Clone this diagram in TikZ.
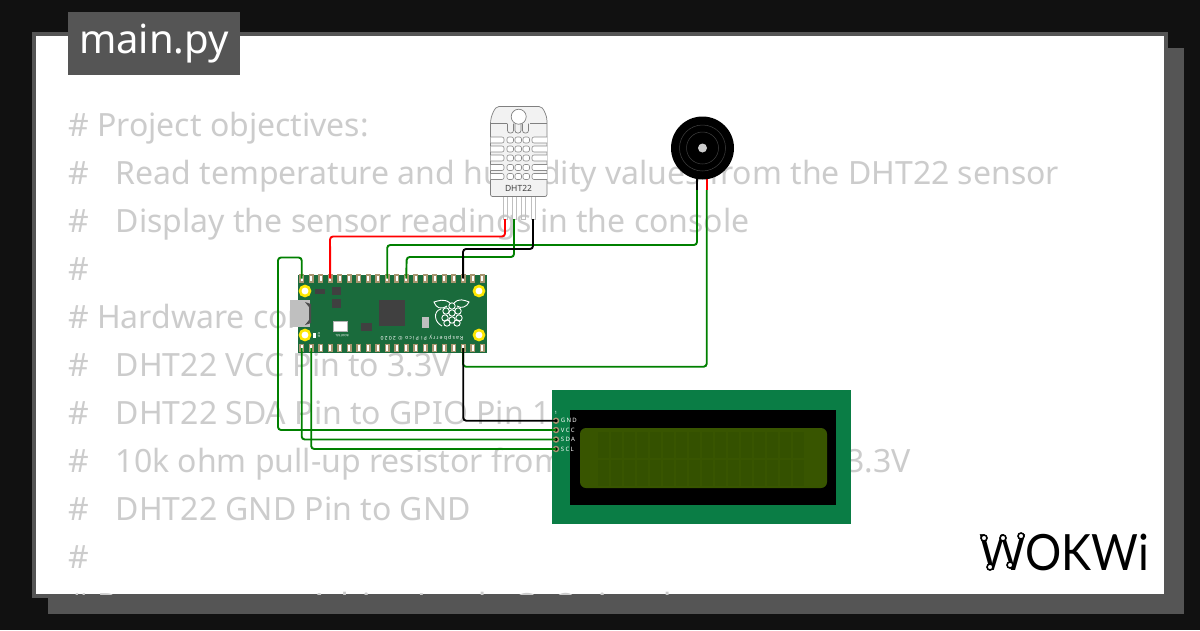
\documentclass[tikz,border=0pt]{standalone}
\usepackage{fontspec}
\setmainfont{Noto Sans}
\newfontfamily\logofont{Lato}
\newfontfamily\spacedfont[LetterSpace=22]{Noto Sans}
\usetikzlibrary{positioning}
\definecolor{pagedark}{HTML}{111111}
\definecolor{framegrey}{HTML}{555555}
\definecolor{codegrey}{HTML}{CCCCCC}
\definecolor{picogreen}{HTML}{1A6B3C}
\definecolor{padtan}{HTML}{A8956F}
\definecolor{lcdgreen}{HTML}{0A7D45}
\definecolor{lcdscreen}{HTML}{385500}
\definecolor{lcdcell}{HTML}{345100}
\definecolor{wiregreen}{HTML}{008000}
\newcommand{\codetext}[3]{\node[codeline] (#1) at (68,#2) {\#\hspace{27pt}#3};}

\begin{document}
\begin{tikzpicture}[
  x=1pt, y=-1pt,
  codeline/.style={
    anchor=base west, inner sep=0pt, text=codegrey, font=\fontsize{32}{32}\selectfont
  },
  pad/.style={
    rectangle, draw=padtan, fill=white, line width=1.5pt,
    minimum width=3.6pt, minimum height=7pt, inner sep=0pt
  },
  ring/.style={
    circle, draw=yellow!90!orange, fill=white, line width=2.6pt,
    minimum size=10pt, inner sep=0pt
  },
  chip/.style={
    rectangle, fill=black!75, inner sep=0pt
  },
  tiny/.style={
    inner sep=0pt, text=white, font=\fontsize{4.5}{5}\selectfont
  },
  lcdpin/.style={
    circle, draw=padtan, fill=black, line width=1.4pt, minimum size=5pt, inner sep=0pt
  },
  lcdlabel/.style={
    anchor=west, inner sep=0pt, text=white, font=\spacedfont\fontsize{6}{6}\selectfont
  },
  wire/.style={
    line width=1.9pt, rounded corners=3pt, draw=wiregreen
  },
  grille/.style={
    draw=black!45, line width=0.6pt, fill=white, rounded corners=2pt
  }
  ]
  % frame
  \fill[pagedark] (0,0) rectangle (1200,630);
  \fill[framegrey] (48,48) rectangle (1184,614);
  \fill[framegrey] (32,32) rectangle (1168,598);
  \fill[white] (36,36) rectangle (1164,594);
  \node[fill=framegrey, minimum width=172pt, minimum height=63pt, inner sep=0pt,
    text=white, font=\fontsize{40}{40}\selectfont] (title) at (154,43.5) {main.py};

  % code behind the parts
  \begin{scope}
    \clip (36,36) rectangle (1164,594);
    \node[codeline] (line1) at (68,136) {\# Project objectives:};
    \codetext{line2}{184}{Read temperature and humidity values from the DHT22 sensor}
    \codetext{line3}{232}{Display the sensor readings in the console}
    \node[codeline] (line4) at (68,280) {\#};
    \node[codeline] (line5) at (68,328) {\# Hardware connected:};
    \codetext{line6}{376}{DHT22 VCC Pin to 3.3V}
    \codetext{line7}{424}{DHT22 SDA Pin to GPIO Pin 1}
    \codetext{line8}{472}{10k ohm pull-up resistor from DHT22 SDA Pin to 3.3V}
    \codetext{line9}{520}{DHT22 GND Pin to GND}
    \node[codeline] (line10) at (68,568) {\#};
    \node[codeline] (line11) at (68,616) {\# Programmer: Adrian Josele G. Quional};
  \end{scope}

  % pico
  \fill[picogreen] (297.5,274.5) rectangle (487,352.5);
  \foreach \i in {1,...,20} {
    \node[pad] (top\i) at ({301.7+9.5*(\i-1)},278.5) {};
    \node[pad] (bot\i) at ({301.7+9.5*(\i-1)},348) {};
  }
  \node[ring] (holea) at (305,291) {};
  \node[ring] (holeb) at (479,291) {};
  \node[ring] (holec) at (305,335) {};
  \node[ring] (holed) at (479,335) {};
  \fill[black!25] (290,300) rectangle (310,327);
  \fill[black!70] (305,302) -- (311,304) -- (311,323) -- (305,325) -- (309,320) -- (309,307) -- cycle;
  \node[chip, minimum width=26pt, minimum height=26pt] (rp2040) at (392,313) {};
  \node[chip, minimum width=10pt, minimum height=5pt] (chipa) at (320,291) {};
  \node[chip, minimum width=9pt, minimum height=8pt] (chipb) at (336.5,291) {};
  \node[chip, minimum width=9pt, minimum height=9pt] (chipc) at (336.5,303) {};
  \node[chip, minimum width=11pt, minimum height=8pt] (chipd) at (366.5,327) {};
  \node[fill=white, draw=black!30, minimum width=14pt, minimum height=10pt, inner sep=0pt] (bootsel) at (340,326) {};
  \node[fill=black!25, minimum width=7pt, minimum height=11pt, inner sep=0pt] (flash) at (425,322) {};
  \node[fill=white, minimum width=3pt, minimum height=5pt, inner sep=0pt] (led) at (314,335) {};
  \node[tiny, rotate=180, font=\spacedfont\fontsize{5.2}{6}\selectfont] (pico) at (422,337.5) {Raspberry Pi Pico © 2020};
  \node[tiny, rotate=180, font=\fontsize{3}{3}\selectfont] (boot) at (342,336) {BOOTSEL};
  \node[tiny, rotate=90, font=\fontsize{3}{3}\selectfont] (ledtext) at (319,335) {LED};
  % raspberry
  \foreach \a/\b in {452/306, 446/311, 458/311, 452/313, 445/318, 459/318, 452/320, 447/323, 457/323}
    \draw[white, line width=0.9pt] (\a,\b) circle (3.2pt);
  \draw[white, line width=0.9pt] (450,303) .. controls (444,298) and (438,301) .. (434,302) .. controls (436,308) and (441,310) .. (447,306);
  \draw[white, line width=0.9pt] (454,303) .. controls (459,298) and (464,300) .. (469,302) .. controls (467,307) and (461,309) .. (457,306);
  \draw[white, line width=0.9pt] (441,309) .. controls (433,311) and (434,322) .. (442,326);

  % dht22
  \foreach \a in {505,514,523.5,533}
    \draw[black!25, line width=0.6pt] (\a-2,196) -- (\a-2,219) -- (\a+2,219) -- (\a+2,196);
  \draw[black!50, fill=black!5, line width=0.7pt, rounded corners=2pt]
    (490.5,196.5) -- (490.5,123) .. controls (491,116) and (494,110) .. (497,106.5)
    -- (541,106.5) .. controls (544,110) and (547,116) .. (547,123) -- (547,196.5) -- cycle;
  \draw[black!50, fill=white, line width=0.7pt] (518.7,116.7) circle (7.5pt);
  \draw[black!50, line width=0.7pt] (490.5,123.5) -- (507,123.5);
  \draw[black!50, line width=0.7pt] (530,123.5) -- (547,123.5);
  \foreach \a in {507.5,515,522.5}
    \draw[black!50, line width=0.7pt, rounded corners=2.5pt] (\a,123.5) -- (\a,133) -- (\a+6,133) -- (\a+6,123.5);
  \foreach \b in {140,149,158,167.5,176.5} {
    \draw[grille] (490.5,\b-3) -- (504,\b-3) -- (504,\b+3) -- (490.5,\b+3);
    \foreach \a in {507,515,523}
      \draw[grille] (\a,\b-3) rectangle (\a+6.5,\b+3);
    \draw[grille] (547,\b-3) -- (532,\b-3) -- (532,\b+3) -- (547,\b+3);
  }
  \node[inner sep=0pt, text=black!75, font=\fontsize{8.5}{9}\selectfont] (dhtname) at (518.5,188) {DHT22};
  \coordinate (dhtvcc) at (505,219);
  \coordinate (dhtsda) at (514,219);
  \coordinate (dhtgnd) at (533,219);

  % buzzer
  \draw[black, line width=1.9pt] (697,172) -- (697,190);
  \draw[red, line width=1.9pt] (706.7,172) -- (706.7,190);
  \node[circle, fill=black, minimum size=63pt, inner sep=0pt] (buzzer) at (702.5,148) {};
  \draw[black!75, line width=0.5pt] (buzzer) circle (23pt);
  \draw[black!75, line width=0.5pt] (buzzer) circle (16pt);
  \fill[black!20] (buzzer) circle (4.5pt);
  \coordinate (buzza) at (697,190);
  \coordinate (buzzb) at (706.7,190);

  % lcd
  \node[fill=lcdgreen, minimum width=299pt, minimum height=134pt, inner sep=0pt] (lcd) at (701.5,457) {};
  \node[fill=black, minimum width=266pt, minimum height=95pt, inner sep=0pt] (lcdframe) at (703,457.5) {};
  \node[fill=lcdscreen, rounded corners=6pt, minimum width=247pt, minimum height=60pt, inner sep=0pt] (lcdglass) at (703.5,458) {};
  \foreach \i in {0,...,15}
    \foreach \b in {431.5,459.5}
      \fill[lcdcell] ({598+13*\i},\b) rectangle ({609+13*\i},\b+26);
  \node[lcdpin] (gnd) at (556,420.7) {};
  \node[lcdpin] (vcc) at (556,430) {};
  \node[lcdpin] (sda) at (556,439.5) {};
  \node[lcdpin] (scl) at (556,449) {};
  \node[lcdlabel, right=1.5pt of gnd] (gndtext) {GND};
  \node[lcdlabel, right=1.5pt of vcc] (vcctext) {VCC};
  \node[lcdlabel, right=1.5pt of sda] (sdatext) {SDA};
  \node[lcdlabel, right=1.5pt of scl] (scltext) {SCL};
  \node[lcdlabel, font=\fontsize{4.5}{5}\selectfont] (pinone) at (554.5,413) {1};

  % wires
  \coordinate (bendvcc) at (330,236.5);
  \coordinate (bendbuzz) at (697,245);
  \coordinate (bendsda) at (406.7,257);
  \coordinate (bendgnd) at (463,249);
  \coordinate (bendloop) at (278,257.5);
  \coordinate (bendback) at (463,366.7);
  \draw[wire, draw=red] (dhtvcc) |- (bendvcc) -- (top4.center);
  \draw[wire] (top10.center) |- (bendbuzz) -- (buzza);
  \draw[wire] (dhtsda) |- (bendsda) -- (top12.center);
  \draw[wire, draw=black] (dhtgnd) |- (bendgnd) -- (top18.center);
  \draw[wire] (top1.center) |- (bendloop) |- (vcc.center);
  \draw[wire] (buzzb) |- (bendback) -- (bot18.center);
  \draw[wire, draw=black] (bot18.center) |- (gnd.center);
  \draw[wire] (bot1.center) |- (sda.center);
  \draw[wire] (bot2.center) |- (scl.center);

  % logo
  \node[inner sep=0pt, anchor=base west, text=black,
    font=\logofont\fontsize{50}{50}\selectfont] (wokwi) at (979,570) {\scalebox{0.905}[1]{WOKWi}};
  \foreach \a/\b in {984/538, 1003/538, 1021/536, 990/567, 1010/565}
    \draw[black, fill=white, line width=1.6pt] (\a,\b) circle (3pt);
\end{tikzpicture}
\end{document}
